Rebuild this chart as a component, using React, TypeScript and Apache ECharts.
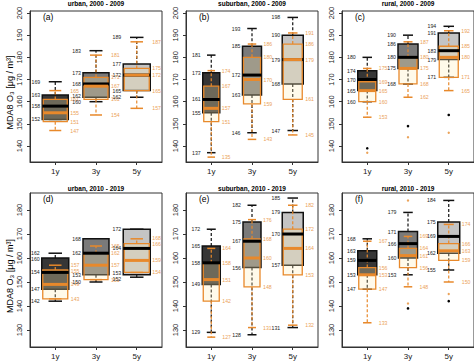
import React, { useEffect, useRef } from "react";
import * as echarts from "echarts";

const periods = ["1y", "3y", "5y"];
const panelTitles = [
  "urban, 2000 - 2009",
  "suburban, 2000 - 2009",
  "rural, 2000 - 2009",
  "urban, 2010 - 2019",
  "suburban, 2010 - 2019",
  "rural, 2010 - 2019",
];
const panelTags = ["(a)", "(b)", "(c)", "(d)", "(e)", "(f)"];
const yTicksTop = [140, 150, 160, 170, 180, 190, 200];
const yTicksBottom = [130, 140, 150, 160, 170, 180];
const yAxisTitle = "MDA8 O\u2083 [\u03bcg / m\u00b3]";

// stats per period: [lower whisker, Q1, median, Q3, upper whisker]
const urbanEarlyBlack = [[152, 152, 158, 163, 169], [160, 162, 168, 173, 183], [162, 165, 172, 177, 189]];
const urbanEarlyOrange = [[147, 151, 155, 161, 165], [154, 161, 167, 171, 181], [157, 165, 172, 175, 187]];
const suburbanEarlyBlack = [[137, 155, 161, 173, 181], [146, 163, 172, 185, 193], [147, 168, 179, 190, 198]];
const suburbanEarlyOrange = [[135, 151, 157, 167, 174], [143, 159, 170, 180, 186], [145, 161, 179, 186, 191]];
const ruralEarlyBlack = [[160, 165, 170, 174, 180], [168, 175, 180, 186, 190], [171, 179, 183, 191, 194]];
const ruralEarlyOrange = [[153, 160, 165, 169, 175], [162, 168, 175, 180, 187], [165, 171, 180, 185, 192]];
const urbanLateBlack = [[142, 147, 154, 160, 162], [150, 153, 162, 168, 168], [152, 153, 164, 172, 172]];
const urbanLateOrange = [[143, 143, 149, 155, 157], [151, 151, 157, 162, 165], [154, 154, 159, 166, 168]];
const suburbanLateBlack = [[129, 149, 158, 165, 172], [128, 156, 167, 175, 182], [131, 157, 170, 179, 185]];
const suburbanLateOrange = [[127, 142, 151, 158, 164], [131, 148, 160, 168, 176], [132, 153, 164, 172, 182]];
const ruralLateBlack = [[147, 153, 159, 163, 168], [153, 160, 166, 171, 179], [155, 162, 169, 175, 184]];
const ruralLateOrange = [[133, 147, 153, 156, 167], [148, 156, 161, 164, 169], [150, 159, 163, 166, 174]];

// outliers per period
const ruralEarlyBlackOut = [[139], [149], [154]];
const ruralEarlyOrangeOut = [[137], [144], [146]];
const ruralLateBlackOut = [[], [139], [142]];
const ruralLateOrangeOut = [[], [184, 141], [145]];
const noOut = [[], [], []];

const blackStats = [urbanEarlyBlack, suburbanEarlyBlack, ruralEarlyBlack, urbanLateBlack, suburbanLateBlack, ruralLateBlack];
const orangeStats = [urbanEarlyOrange, suburbanEarlyOrange, ruralEarlyOrange, urbanLateOrange, suburbanLateOrange, ruralLateOrange];
const blackOut = [noOut, noOut, ruralEarlyBlackOut, noOut, noOut, ruralLateBlackOut];
const orangeOut = [noOut, noOut, ruralEarlyOrangeOut, noOut, noOut, ruralLateOrangeOut];

// styles / layout
const BOX_W = [[26, 26, 27], [17, 19, 21], [19, 20, 21], [27, 26, 27], [18, 18, 21], [19, 19, 22]];
const GREY_FILL = ["#363636", "#7a7a7a", "#c4c4c4"];
const ORANGE = "#E8892B";
const ORANGE_TEXT = "#EBA35A";
const ORANGE_FILL = "rgba(255, 236, 180, 0.28)";
const FONT = "Liberation Sans, Arial, sans-serif";
const LABEL_SIZE = 5.2;
const LABEL_GAP = 6;
const LABEL_OFFSET = 2;
const LEFTS = [30, 186, 342];
const W = 132;
const TOPS = [11, 193];
const HEIGHTS = [151, 154];
const YRANGE = [[132.8, 200.9], [122.9, 187.1]];

function ln(x1: number, y1: number, x2: number, y2: number, stroke: string, lineWidth: number, dash?: number[]) {
  return {
    type: "line",
    shape: { x1, y1, x2, y2 },
    style: { stroke, lineWidth, lineDash: dash || null, fill: null },
  };
}

function txt(x: number, y: number, text: string, fill: string, align: string) {
  return {
    type: "text",
    x,
    y,
    style: {
      text,
      fill,
      font: `${LABEL_SIZE}px ${FONT}`,
      lineHeight: LABEL_SIZE + 0.5,
      align,
      verticalAlign: "middle",
      textAlign: align,
      textVerticalAlign: "middle",
    },
  };
}

// spread label positions so that neighbouring labels keep a minimal gap
function spread(ys: number[]): number[] {
  const idx = ys.map((y, j) => j).sort((a, b) => ys[a] - ys[b]);
  const out = ys.slice();
  for (let pass = 0; pass < 8; pass++) {
    for (let t = 1; t < idx.length; t++) {
      const a = idx[t - 1];
      const b = idx[t];
      const d = out[b] - out[a];
      if (d < LABEL_GAP) {
        const push = (LABEL_GAP - d) / 2;
        out[a] -= push;
        out[b] += push;
      }
    }
  }
  return out;
}

function makeRender(i: number) {
  return (params: any, api: any) => {
    const k = params.dataIndex;
    const xv = api.value(0);
    const b = blackStats[i][k];
    const o = orangeStats[i][k];
    const cx = api.coord([xv, b[2]])[0];
    const Y = (v: number) => api.coord([xv, v])[1];
    const bw = BOX_W[i][k];
    const ow = bw - 2;
    const ch: any[] = [];

    const drawBox = (s: number[], w: number, stroke: string, fill: string, lw: number) => {
      ch.push(ln(cx, Y(s[3]), cx, Y(s[4]), stroke, 1.2, [3, 2]));
      ch.push(ln(cx, Y(s[1]), cx, Y(s[0]), stroke, 1.2, [3, 2]));
      ch.push(ln(cx - w / 4, Y(s[4]), cx + w / 4, Y(s[4]), stroke, 1.5));
      ch.push(ln(cx - w / 4, Y(s[0]), cx + w / 4, Y(s[0]), stroke, 1.5));
      ch.push({
        type: "rect",
        shape: { x: cx - w / 2, y: Y(s[3]), width: w, height: Y(s[1]) - Y(s[3]) },
        style: { fill, stroke, lineWidth: lw },
      });
    };

    drawBox(b, bw, "#111", GREY_FILL[k], 1.5);
    drawBox(o, ow, ORANGE, ORANGE_FILL, 1.3);
    ch.push(ln(cx - bw / 2, Y(b[2]), cx + bw / 2, Y(b[2]), "#000", 3));
    ch.push(ln(cx - ow / 2, Y(o[2]), cx + ow / 2, Y(o[2]), ORANGE, 3));

    blackOut[i][k].forEach((v) => {
      ch.push({ type: "circle", shape: { cx, cy: Y(v), r: 1.3 }, style: { fill: "#000" } });
    });
    orangeOut[i][k].forEach((v) => {
      ch.push({ type: "circle", shape: { cx, cy: Y(v), r: 1.2 }, style: { fill: ORANGE_TEXT } });
    });

    const bl = Array.from(new Set(b));
    const blY = spread(bl.map(Y));
    bl.forEach((v, j) => ch.push(txt(cx - bw / 2 - LABEL_OFFSET, blY[j], String(v), "#222", "right")));
    const ol = Array.from(new Set(o));
    const olY = spread(ol.map(Y));
    ol.forEach((v, j) => ch.push(txt(cx + bw / 2 + LABEL_OFFSET, olY[j], String(v), ORANGE_TEXT, "left")));

    return { type: "group", children: ch };
  };
}

export default function App() {
  const ref = useRef<HTMLDivElement>(null);
  useEffect(() => {
    if (!ref.current) return;
    const chart = echarts.init(ref.current, null, { renderer: "svg" });
    const grids: any[] = [];
    const xAxes: any[] = [];
    const yAxes: any[] = [];
    const series: any[] = [];
    const graphics: any[] = [];
    for (let i = 0; i < 6; i++) {
      const r = Math.floor(i / 3);
      const c = i % 3;
      const ticks = r === 0 ? yTicksTop : yTicksBottom;
      grids.push({
        left: LEFTS[c],
        top: TOPS[r],
        width: W,
        height: HEIGHTS[r],
        show: true,
        borderColor: "#333",
        borderWidth: 1,
        backgroundColor: "transparent",
      });
      xAxes.push({
        type: "value",
        gridIndex: i,
        min: 0.38,
        max: 3.62,
        splitLine: { show: false },
        axisLine: { show: true, lineStyle: { color: "#333" } },
        axisTick: { show: true, length: 3, customValues: [1, 2, 3], lineStyle: { color: "#333" } },
        axisLabel: {
          customValues: [1, 2, 3],
          formatter: (v: number) => periods[Math.round(v) - 1] || "",
          fontSize: 8,
          fontFamily: FONT,
          color: "#222",
          margin: 5,
        },
      });
      yAxes.push({
        type: "value",
        gridIndex: i,
        min: YRANGE[r][0],
        max: YRANGE[r][1],
        splitLine: { show: false },
        axisLine: { show: true, lineStyle: { color: "#333" } },
        axisTick: { show: true, length: 3, customValues: ticks, lineStyle: { color: "#333" } },
        axisLabel: {
          customValues: ticks,
          rotate: 90,
          fontSize: 7.5,
          fontFamily: FONT,
          color: "#222",
          margin: 7,
        },
      });
      series.push({
        type: "custom",
        xAxisIndex: i,
        yAxisIndex: i,
        data: periods.map((_, k) => [k + 1]),
        renderItem: makeRender(i),
        clip: false,
      });
      graphics.push({
        type: "text",
        x: LEFTS[c] + W / 2,
        y: r === 0 ? 3 : 188,
        style: {
          text: panelTitles[i],
          font: `bold 6.5px ${FONT}`,
          fill: "#000",
          textAlign: "center",
          textVerticalAlign: "middle",
          align: "center",
          verticalAlign: "middle",
        },
      });
      graphics.push({
        type: "text",
        x: LEFTS[c] + 13,
        y: TOPS[r] + 6,
        style: {
          text: panelTags[i],
          font: `8.5px ${FONT}`,
          fill: "#000",
          textAlign: "left",
          textVerticalAlign: "middle",
          align: "left",
          verticalAlign: "middle",
        },
      });
    }
    [0, 1].forEach((r) => {
      graphics.push({
        type: "text",
        x: 10,
        y: TOPS[r] + HEIGHTS[r] / 2 + 6,
        rotation: Math.PI / 2,
        style: {
          text: yAxisTitle,
          font: `9px ${FONT}`,
          fill: "#000",
          textAlign: "center",
          textVerticalAlign: "middle",
          align: "center",
          verticalAlign: "middle",
        },
      });
    });
    chart.setOption({
      animation: false,
      backgroundColor: "#fff",
      grid: grids,
      xAxis: xAxes,
      yAxis: yAxes,
      series,
      graphic: graphics,
    });
    return () => chart.dispose();
  }, []);
  return <div ref={ref} style={{ width: 474, height: 361, position: "absolute", left: 0, top: 0 }} />;
}
